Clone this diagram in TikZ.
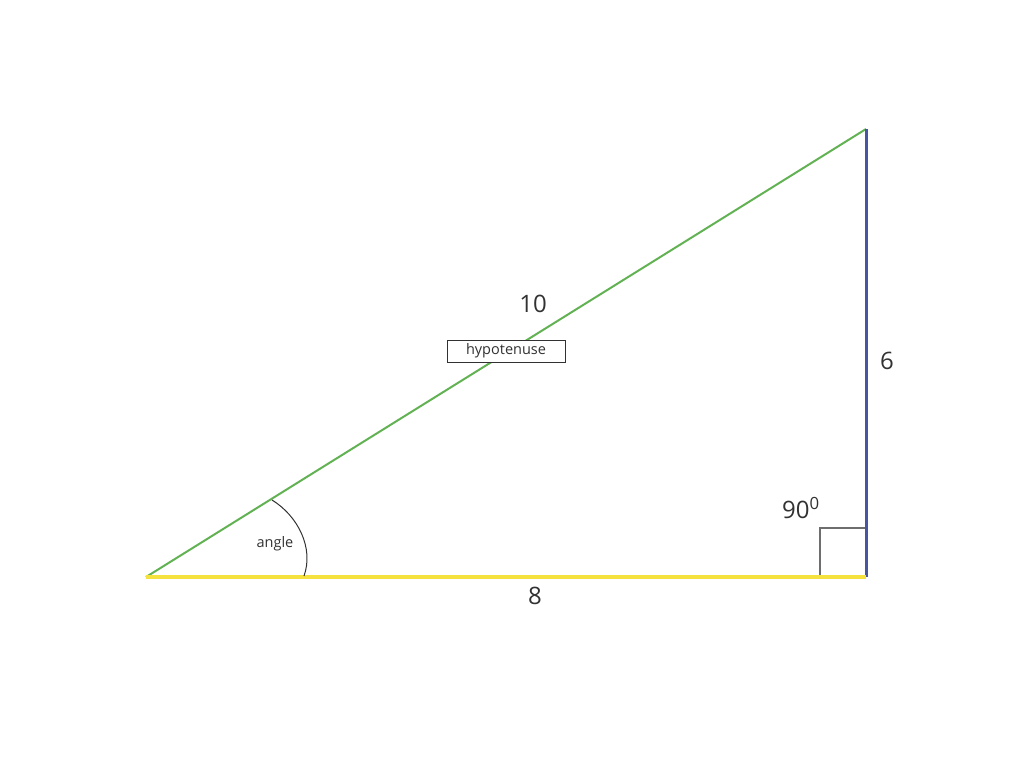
\documentclass[tikz,border=0pt]{standalone}
\usepackage{fontspec}
\setmainfont{Open Sans}
\definecolor{hypgreen}{RGB}{98,178,84}
\definecolor{sideblue}{RGB}{70,86,162}
\definecolor{baseyellow}{RGB}{246,226,62}
\definecolor{txt}{RGB}{50,50,50}
\definecolor{sqgray}{RGB}{110,110,110}
\begin{document}
\begin{tikzpicture}[x=1pt,y=-1pt,
  bigtxt/.style={text=txt,font=\fontsize{24}{28}\selectfont,inner sep=0pt},
  smalltxt/.style={text=txt,font=\fontsize{14.5}{17}\selectfont,inner sep=0pt},
  labelbox/.style={draw=txt,fill=white,line width=1pt,minimum width=118pt,minimum height=22pt,inner sep=0pt,text=txt,font=\fontsize{14.5}{17}\selectfont}]
\useasboundingbox (0,0) rectangle (1024,768);
\coordinate (A) at (146,577);
\coordinate (B) at (866,577);
\coordinate (C) at (866,129);
% right angle square
\draw[sqgray,line width=1.3pt] (820,577) -- (820,528) -- (866,528);
\draw[hypgreen,line width=2pt] (A) -- (C);
\draw[sideblue,line width=3pt] (B) -- (C);
\draw[baseyellow,line width=4pt] (A) -- (B);
% angle arc
\coordinate (arcS) at (272,500);
\coordinate (arcE) at (304,576);
\draw[txt,line width=1pt] (arcS) .. controls (298,516) and (314,548) .. (arcE);
\node[labelbox] (hyp) at (506,351) {hypotenuse};
\node[bigtxt] (ten) at (533,304) {10};
\node[bigtxt] (six) at (887,361) {6};
\node[bigtxt] (eight) at (535,596) {8};
\node[bigtxt] (ninety) at (801,508) {90\textsuperscript{0}};
\node[smalltxt] (ang) at (275,544) {angle};
\end{tikzpicture}
\end{document}
